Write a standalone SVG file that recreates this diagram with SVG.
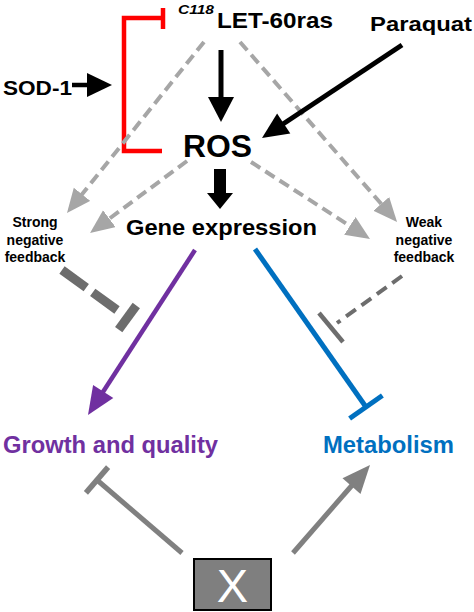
<svg xmlns="http://www.w3.org/2000/svg" width="474" height="612" viewBox="0 0 474 612">
<style>
text{font-family:"Liberation Sans",Arial,sans-serif;font-weight:bold}
.blk{fill:#000}
.gd{stroke:#a6a6a6;stroke-width:4;stroke-dasharray:11 6;fill:none}
.gh{fill:#a6a6a6}
.small{font-size:14px}
</style>
<defs>
<marker id="gh" markerUnits="userSpaceOnUse" markerWidth="26" markerHeight="24" refX="4" refY="10.5" orient="auto" viewBox="0 0 26 24">
<path d="M0,0 L24,10.5 L0,21 z" fill="#a6a6a6"/>
</marker>
</defs>
<rect width="474" height="612" fill="#fff"/>
<g id="connectors">
<!-- red inhibition bracket -->
<polyline points="162,18 124,18 124,151 162,151" fill="none" stroke="#ff0000" stroke-width="4.5"/>
<line x1="163" y1="8" x2="163" y2="29" stroke="#ff0000" stroke-width="4.5"/>
<!-- gray dashed arrows -->
<line class="gd" x1="204" y1="42" x2="79.5" y2="197.4" marker-end="url(#gh)"/>
<line class="gd" x1="187" y1="161" x2="106.1" y2="221.1" marker-end="url(#gh)"/>
<line class="gd" x1="240" y1="42" x2="383.9" y2="206.9" marker-end="url(#gh)"/>
<line class="gd" x1="251" y1="162" x2="353.2" y2="228.1" marker-end="url(#gh)"/>
<!-- LET -> ROS -->
<line x1="221" y1="50" x2="221" y2="100" stroke="#000" stroke-width="5"/>
<polygon points="208,97 234,97 221,122" fill="#000"/>
<!-- Paraquat -> ROS -->
<line x1="402" y1="45" x2="280" y2="126" stroke="#000" stroke-width="5"/>
<polygon points="277.1,113.6 290.3,133.6 262,138" fill="#000"/>
<!-- SOD-1 arrow -->
<line x1="72" y1="85" x2="90" y2="85" stroke="#000" stroke-width="4.5"/>
<polygon points="87,73 87,97 112,85" fill="#000"/>
<!-- ROS -> Gene expression thick -->
<rect x="214" y="169" width="12" height="26" fill="#000"/>
<polygon points="207,193 233,193 220,209" fill="#000"/>
<!-- strong negative feedback -->
<line x1="62" y1="270" x2="117" y2="310" stroke="#6d6d6d" stroke-width="9" stroke-dasharray="30 8"/>
<line x1="118.7" y1="329.7" x2="136.3" y2="305.5" stroke="#6d6d6d" stroke-width="9"/>
<!-- weak negative feedback -->
<line x1="402" y1="276" x2="337" y2="323" stroke="#6d6d6d" stroke-width="4" stroke-dasharray="12 7"/>
<line x1="319" y1="313" x2="343" y2="342" stroke="#6d6d6d" stroke-width="4.5"/>
<!-- purple arrow -->
<line x1="195" y1="250" x2="101" y2="395" stroke="#7030a0" stroke-width="4.5"/>
<polygon points="93.1,385 113.3,398 88,415" fill="#7030a0"/>
<!-- blue inhibition -->
<line x1="255" y1="249" x2="366" y2="407" stroke="#0070c0" stroke-width="5"/>
<line x1="349.6" y1="418.5" x2="382.4" y2="395.5" stroke="#0070c0" stroke-width="5"/>
<!-- X -> growth inhibition -->
<line x1="182" y1="553" x2="97" y2="480" stroke="#808080" stroke-width="5"/>
<line x1="108.1" y1="467.1" x2="85.9" y2="492.9" stroke="#808080" stroke-width="5.5"/>
<!-- X -> metabolism arrow -->
<line x1="293" y1="553" x2="354" y2="483" stroke="#808080" stroke-width="5"/>
<polygon points="342.5,478.2 360.5,494 370,465" fill="#808080"/>
</g>
<g id="node-let60">
<text x="178" y="13.5" font-size="13" font-style="italic" textLength="36" lengthAdjust="spacingAndGlyphs">C118</text>
<text x="217" y="28" font-size="22" textLength="116" lengthAdjust="spacingAndGlyphs">LET-60ras</text>
</g>
<g id="node-paraquat">
<text x="370" y="31" font-size="21" textLength="102" lengthAdjust="spacingAndGlyphs">Paraquat</text>
</g>
<g id="node-sod1">
<text x="3" y="95" font-size="21" textLength="69" lengthAdjust="spacingAndGlyphs">SOD-1</text>
</g>
<g id="node-ros">
<text x="183" y="157" font-size="31" textLength="69" lengthAdjust="spacingAndGlyphs">ROS</text>
</g>
<g id="node-gene">
<text x="126" y="235" font-size="22.5" textLength="191" lengthAdjust="spacingAndGlyphs">Gene expression</text>
</g>
<g id="node-strong">
<text class="small" x="35" y="227" text-anchor="middle">Strong</text>
<text class="small" x="35" y="244.5" text-anchor="middle">negative</text>
<text class="small" x="35" y="262" text-anchor="middle">feedback</text>
</g>
<g id="node-weak">
<text class="small" x="424" y="227" text-anchor="middle">Weak</text>
<text class="small" x="424" y="244.5" text-anchor="middle">negative</text>
<text class="small" x="424" y="262" text-anchor="middle">feedback</text>
</g>
<g id="node-growth">
<text x="3" y="453" font-size="23" fill="#7030a0" textLength="215" lengthAdjust="spacingAndGlyphs">Growth and quality</text>
</g>
<g id="node-metabolism">
<text x="323" y="453" font-size="23" fill="#0070c0" textLength="131" lengthAdjust="spacingAndGlyphs">Metabolism</text>
</g>
<g id="node-x">
<rect x="194" y="559" width="77" height="51" fill="#7f7f7f" stroke="#000" stroke-width="2"/>
<text x="232.5" y="602" font-size="47" font-weight="normal" fill="#fff" text-anchor="middle" style="font-weight:normal">X</text>
</g>
</svg>
